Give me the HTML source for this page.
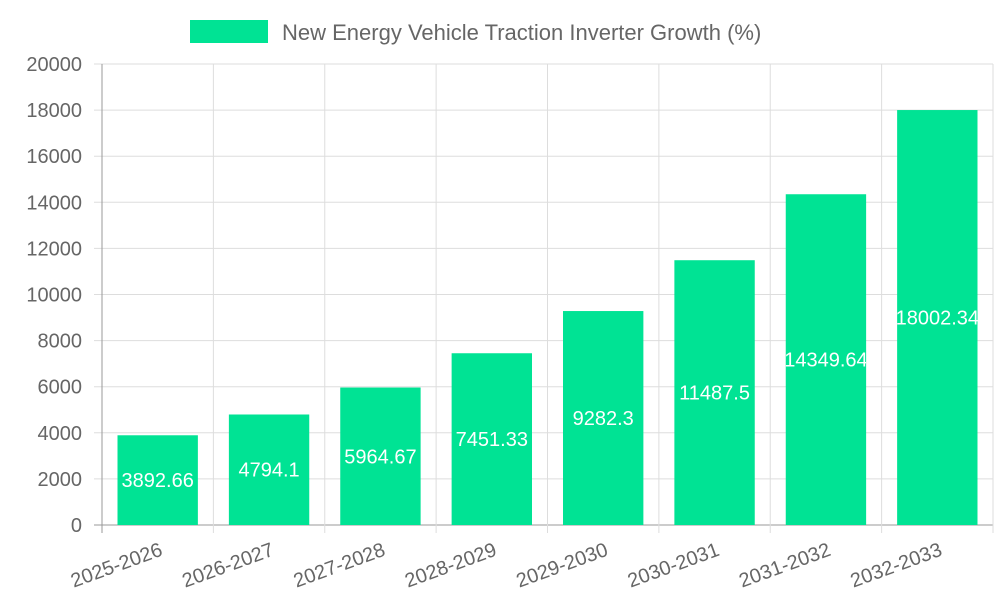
<!DOCTYPE html>
<html><head><meta charset="utf-8"><style>
body{margin:0;background:#fff;}
svg{display:block;font-family:"Liberation Sans",sans-serif;}
</style></head><body>
<svg id="chart" width="1000" height="600">
<g id="legend">
<rect x="190" y="20" width="78" height="23" fill="#00e394"/>
<text x="282" y="40" font-size="22" fill="#666">New Energy Vehicle Traction Inverter Growth (%)</text>
</g>
<g id="grid"></g><g id="bars"></g><g id="axes"></g>
</svg>
<script>
const categories=["2025-2026","2026-2027","2027-2028","2028-2029","2029-2030","2030-2031","2031-2032","2032-2033"];
const values=[3892.66,4794.1,5964.67,7451.33,9282.3,11487.5,14349.64,18002.34];
const yTicks=[0,2000,4000,6000,8000,10000,12000,14000,16000,18000,20000];
const NS="http://www.w3.org/2000/svg";
const L=102,R=993,T=64,B=525,yMax=20000;
const bw=(R-L)/categories.length;
const y=v=>B-(v/yMax)*(B-T);
const x=i=>L+i*bw;
function mk(tag,attrs,parent){const e=document.createElementNS(NS,tag);for(const k in attrs)e.setAttribute(k,attrs[k]);parent.appendChild(e);return e;}
const grid=document.getElementById('grid'),bars=document.getElementById('bars'),axes=document.getElementById('axes');
yTicks.forEach(t=>{
 const ln=mk('line',{x1:L-8,x2:R,y1:y(t),y2:y(t),stroke:t===0?'#999':'#ddd','stroke-width':1},grid);
 
 
 const tx=mk('text',{x:L-20,y:y(t)+7,'text-anchor':'end','font-size':20,fill:'#666'},axes);
 tx.textContent=t;
 
 
});
for(let i=0;i<=categories.length;i++){
 const ln=mk('line',{x1:x(i),x2:x(i),y1:T,y2:B+8,stroke:i===0?'#999':'#ddd','stroke-width':1},grid);
 
 
}
const defs=mk('defs',{},bars);
categories.forEach((c,i)=>{
 const bx=x(i)+15.5,w=bw-31,by=y(values[i]),h=B-by;
 const r=mk('rect',{x:bx,y:by,width:w,height:h,fill:'#00e394'},bars);
 
 
 const cp=mk('clipPath',{id:'cp'+i},defs);
 mk('rect',{x:bx,y:by,width:w,height:h},cp);
 const lt=mk('text',{x:bx+w/2,y:by+h/2+7,'text-anchor':'middle','font-size':20,fill:'#fff','clip-path':'url(#cp'+i+')'},bars);
 lt.textContent=values[i];
 
 
 const cx=x(i)+bw/2+6,cy=B+30;
 const xt=mk('text',{x:cx,y:cy,'text-anchor':'end','font-size':20,fill:'#666',transform:'rotate(-20 '+cx+' '+cy+')'},axes);
 xt.textContent=c;
 
 
});
</script>
</body></html>
